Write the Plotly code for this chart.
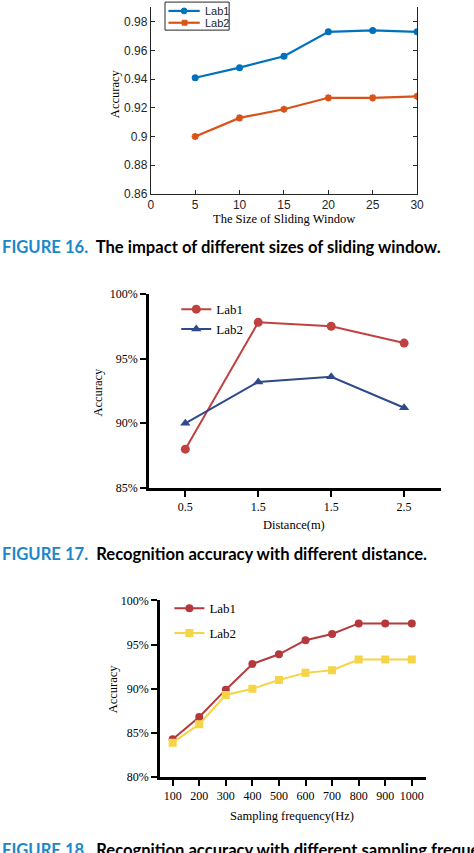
import plotly.graph_objects as go

W, H = 474, 853

# ---------------- data ----------------
window_sizes = [5, 10, 15, 20, 25, 30]
win_lab1 = [0.941, 0.948, 0.956, 0.973, 0.974, 0.973]
win_lab2 = [0.900, 0.913, 0.919, 0.927, 0.927, 0.928]
win_xticks = [0, 5, 10, 15, 20, 25, 30]

distances = ["0.5", "1.5", "1.5", "2.5"]
dist_lab1 = [88.0, 97.8, 97.5, 96.2]
dist_lab2 = [90.0, 93.2, 93.6, 91.2]
dist_yticks = [85, 90, 95, 100]
dist_yticktext = ["85%", "90%", "95%", "100%"]

freqs = [100, 200, 300, 400, 500, 600, 700, 800, 900, 1000]
freq_lab1 = [84.3, 86.8, 89.9, 92.8, 93.9, 95.5, 96.2, 97.4, 97.4, 97.4]
freq_lab2 = [83.9, 86.0, 89.3, 90.0, 91.0, 91.8, 92.1, 93.3, 93.3, 93.3]
freq_yticks = [80, 85, 90, 95, 100]
freq_yticktext = ["80%", "85%", "90%", "95%", "100%"]

captions = [
    ("FIGURE 16.", "The impact of different sizes of sliding window."),
    ("FIGURE 17.", "Recognition accuracy with different distance."),
    ("FIGURE 18.", "Recognition accuracy with different sampling frequency."),
]

def px(x):
    return x / W

def py(y):
    return 1 - y / H

SERIF = "Liberation Serif"
SANS = "Liberation Sans"
CAP_FONT = "Lato"

fig = go.Figure()

# ---------- chart 1 (MATLAB style) ----------
fig.add_trace(go.Scatter(x=window_sizes, y=win_lab1, mode="lines+markers", name="Lab1",
                         line=dict(color="#0072BD", width=2.2),
                         marker=dict(symbol="circle", size=7, color="#0072BD"),
                         xaxis="x", yaxis="y", showlegend=False))
fig.add_trace(go.Scatter(x=window_sizes, y=win_lab2, mode="lines+markers", name="Lab2",
                         line=dict(color="#D95319", width=2.2),
                         marker=dict(symbol="asterisk-open", size=6, color="#D95319",
                                     line=dict(width=2, color="#D95319")),
                         xaxis="x", yaxis="y", showlegend=False))

# ---------- chart 2 ----------
dist_pos = list(range(len(distances)))
fig.add_trace(go.Scatter(x=dist_pos, y=dist_lab1, mode="lines+markers", name="Lab1",
                         line=dict(color="#C0413F", width=2),
                         marker=dict(symbol="circle", size=9, color="#C0413F"),
                         xaxis="x2", yaxis="y2", legend="legend2"))
fig.add_trace(go.Scatter(x=dist_pos, y=dist_lab2, mode="lines+markers", name="Lab2",
                         line=dict(color="#2E4A8A", width=2),
                         marker=dict(symbol="triangle-up", size=9, color="#2E4A8A"),
                         xaxis="x2", yaxis="y2", legend="legend2"))

# ---------- chart 3 ----------
fig.add_trace(go.Scatter(x=freqs, y=freq_lab1, mode="lines+markers", name="Lab1",
                         line=dict(color="#B5393C", width=2),
                         marker=dict(symbol="circle", size=8, color="#B5393C"),
                         xaxis="x3", yaxis="y3", legend="legend3", legendgroup="a"))
fig.add_trace(go.Scatter(x=freqs, y=freq_lab2, mode="lines+markers", name="Lab2",
                         line=dict(color="#F5D547", width=2),
                         marker=dict(symbol="square", size=8, color="#F5D547"),
                         xaxis="x3", yaxis="y3", legend="legend3", legendgroup="b"))

ax1_col = "#262626"
fig.update_layout(
    width=W, height=H, margin=dict(l=0, r=0, t=0, b=0),
    paper_bgcolor="white", plot_bgcolor="white",
    xaxis=dict(domain=[px(151), px(423)], range=[0, 30], tickvals=win_xticks,
               showline=True, linecolor=ax1_col, linewidth=1, mirror=False,
               ticks="inside", ticklen=4, tickcolor=ax1_col, showgrid=False, zeroline=False,
               tickfont=dict(family=SANS, size=12, color=ax1_col), anchor="y"),
    yaxis=dict(domain=[py(190), 1], range=[0.86, 0.9903], dtick=0.02, tick0=0.86,
               showline=True, linecolor=ax1_col, linewidth=1, mirror="ticks",
               ticks="inside", ticklen=4, tickcolor=ax1_col, showgrid=False, zeroline=False,
               tickfont=dict(family=SANS, size=12, color=ax1_col), anchor="x"),
    xaxis2=dict(domain=[px(149), px(447)], range=[-0.5, 3.5], tickvals=dist_pos, ticktext=distances,
                showline=True, linecolor="black", linewidth=2.5, ticks="outside", ticklen=6,
                tickwidth=2, tickcolor="black", showgrid=False, zeroline=False,
                tickfont=dict(family=SERIF, size=12, color="black"), anchor="y2"),
    yaxis2=dict(domain=[py(489), py(291.7)], range=[85, 100], tickvals=dist_yticks,
                ticktext=dist_yticktext, showline=True, linecolor="black", linewidth=2.5,
                ticks="outside", ticklen=6, tickwidth=2, tickcolor="black", showgrid=False,
                zeroline=False, tickfont=dict(family=SERIF, size=12, color="black"), anchor="x2"),
    xaxis3=dict(domain=[px(160.3), px(432)], range=[52, 1053], tickvals=freqs,
                showline=True, linecolor="black", linewidth=2.5, ticks="outside", ticklen=6,
                tickwidth=2, tickcolor="black", showgrid=False, zeroline=False,
                tickfont=dict(family=SERIF, size=12, color="black"), anchor="y3"),
    yaxis3=dict(domain=[py(783), py(603.3)], range=[80, 100], tickvals=freq_yticks,
                ticktext=freq_yticktext, showline=True, linecolor="black", linewidth=2.5,
                ticks="outside", ticklen=6, tickwidth=2, tickcolor="black", showgrid=False,
                zeroline=False, tickfont=dict(family=SERIF, size=12, color="black"), anchor="x3"),
    legend2=dict(x=px(177), y=py(292), xanchor="left", yanchor="top",
                 font=dict(family=SERIF, size=13, color="black"), bgcolor="rgba(0,0,0,0)"),
    legend3=dict(x=px(170), y=py(596), xanchor="left", yanchor="top", tracegroupgap=5,
                 font=dict(family=SERIF, size=13, color="black"), bgcolor="rgba(0,0,0,0)"),
    showlegend=True,
)

# chart 1 legend box (drawn as decoration)
shapes = [
    dict(type="rect", xref="paper", yref="paper", x0=px(165.5), x1=px(231), y0=py(23.5), y1=py(-5),
         line=dict(color=ax1_col, width=1), fillcolor="white", layer="above"),
    dict(type="line", xref="paper", yref="paper", x0=px(169), x1=px(201), y0=py(4), y1=py(4),
         line=dict(color="#0072BD", width=2.2), layer="above"),
    dict(type="circle", xref="paper", yref="paper", x0=px(182), x1=px(188), y0=py(7), y1=py(1),
         line=dict(color="#0072BD", width=1), fillcolor="#0072BD", layer="above"),
    dict(type="line", xref="paper", yref="paper", x0=px(169), x1=px(201), y0=py(16), y1=py(16),
         line=dict(color="#D95319", width=2.2), layer="above"),
    dict(type="rect", xref="paper", yref="paper", x0=px(183), x1=px(188), y0=py(18.5), y1=py(13.5),
         line=dict(color="#D95319", width=1), fillcolor="#D95319", layer="above"),
]
fig.update_layout(shapes=shapes)

ann = []
def text(x, y, t, font, size, color="black", angle=0, xanchor="center"):
    ann.append(dict(x=px(x), y=py(y), xref="paper", yref="paper", text=t, showarrow=False,
                    xanchor=xanchor, yanchor="middle", textangle=angle,
                    font=dict(family=font, size=size, color=color)))

text(204, 4, "Lab1", SANS, 11, ax1_col, xanchor="left")
text(204, 16, "Lab2", SANS, 11, ax1_col, xanchor="left")

# axis titles
text(287, 216, "The Size of Sliding Window", SERIF, 12.5)
text(114, 88, "Accuracy", SERIF, 12.5, angle=-90)
text(297, 527, "Distance(m)", SERIF, 12.5)
text(97, 391, "Accuracy", SERIF, 12.5, angle=-90)
text(295, 822.5, "Sampling frequency(Hz)", SERIF, 12.5)
text(112, 693, "Accuracy", SERIF, 12.5, angle=-90)

# captions
cap_y = [244, 556, 843]
cap_shift = [0, 0, -14]
for (lab, body), y, s in zip(captions, cap_y, cap_shift):
    ann.append(dict(x=px(-3), y=py(y), xref="paper", yref="paper", showarrow=False,
                    xanchor="left", yanchor="middle", yshift=s,
                    text=f"<b><span style='color:#1B87C9'>{lab}</span>\u00a0\u00a0{body}</b>",
                    font=dict(family=CAP_FONT, size=16.6, color="black")))

fig.update_layout(annotations=ann)
fig.write_html("out.html")
